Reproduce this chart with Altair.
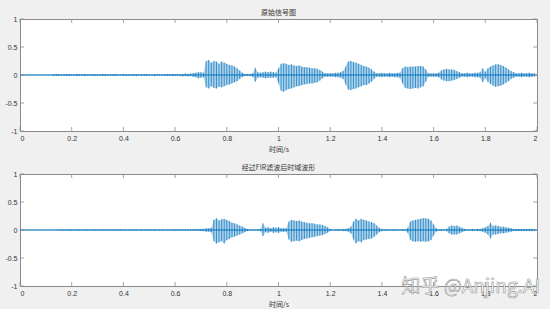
import altair as alt
import pandas as pd

STEP = 0.01
X_TICKS = [0, 0.2, 0.4, 0.6, 0.8, 1, 1.2, 1.4, 1.6, 1.8, 2]
Y_TICKS = [-1, -0.5, 0, 0.5, 1]
TITLES = ["原始信号图", "经过FIR滤波后时域波形"]
X_LABEL = "时间/s"
WATERMARK = "知乎 @Anjing.AI"

# envelope of the original signal, sampled every 0.01 s (upper / lower)
top_hi = [0.005] * 13 + [
    0.015, 0.02, 0.015, 0.01, 0.015, 0.02, 0.015,
    0.015, 0.01, 0.02, 0.015, 0.015, 0.02, 0.01, 0.015, 0.02, 0.015,
    0.01, 0.015, 0.02, 0.015, 0.01, 0.015, 0.015, 0.02, 0.01, 0.015,
    0.02, 0.015, 0.01, 0.015, 0.02, 0.015, 0.015, 0.01, 0.02, 0.015,
    0.015, 0.01, 0.015, 0.02, 0.015, 0.01, 0.015, 0.02, 0.015, 0.02,
    0.015, 0.02, 0.015, 0.02, 0.025, 0.02, 0.025, 0.03,
    0.04, 0.05, 0.05, 0.04,
    0.25, 0.27, 0.22, 0.25, 0.24, 0.20, 0.24, 0.22, 0.20, 0.18, 0.17, 0.15, 0.12, 0.08, 0.04,
    0.02, 0.02, 0.02, 0.03, 0.13, 0.05, 0.04, 0.05, 0.06, 0.05, 0.06, 0.05, 0.04,
    0.12, 0.20, 0.21, 0.20, 0.18, 0.19, 0.17, 0.16, 0.17, 0.15, 0.14, 0.14, 0.13, 0.12, 0.12, 0.11, 0.09, 0.06, 0.03,
    0.03, 0.03, 0.03, 0.04, 0.04, 0.05, 0.07,
    0.15, 0.24, 0.25, 0.23, 0.22, 0.20, 0.18, 0.16, 0.15, 0.13, 0.10, 0.06, 0.03,
    0.03, 0.04, 0.03, 0.03, 0.04, 0.03, 0.03, 0.04, 0.04,
    0.12, 0.15, 0.14, 0.15, 0.15, 0.15, 0.16, 0.16, 0.15, 0.10, 0.03,
    0.03, 0.03, 0.03, 0.04,
    0.08, 0.10, 0.11, 0.10, 0.10, 0.09, 0.07, 0.05,
    0.03, 0.03, 0.04, 0.03, 0.03, 0.04, 0.04, 0.05,
    0.12, 0.06,
    0.12, 0.15, 0.17, 0.19, 0.19, 0.18, 0.16, 0.13, 0.10, 0.07, 0.05,
    0.03, 0.03, 0.04, 0.03, 0.03, 0.04, 0.03, 0.03,
]
top_lo = [-0.005] * 13 + [
    -0.015, -0.015, -0.02, -0.01, -0.015, -0.015, -0.02,
    -0.01, -0.015, -0.02, -0.015, -0.01, -0.02, -0.015, -0.015, -0.01, -0.02,
    -0.015, -0.01, -0.015, -0.02, -0.015, -0.01, -0.02, -0.015, -0.015, -0.01,
    -0.015, -0.02, -0.015, -0.01, -0.015, -0.02, -0.01, -0.015, -0.015, -0.02,
    -0.01, -0.015, -0.02, -0.015, -0.01, -0.015, -0.02, -0.015, -0.015, -0.02,
    -0.02, -0.015, -0.02, -0.025, -0.02, -0.025, -0.02, -0.03,
    -0.04, -0.06, -0.05, -0.04,
    -0.22, -0.24, -0.20, -0.23, -0.24, -0.21, -0.22, -0.20, -0.18, -0.17, -0.15, -0.13, -0.11, -0.07, -0.04,
    -0.02, -0.02, -0.02, -0.03, -0.12, -0.05, -0.04, -0.05, -0.06, -0.05, -0.05, -0.05, -0.04,
    -0.15, -0.28, -0.30, -0.27, -0.25, -0.24, -0.22, -0.20, -0.20, -0.18, -0.17, -0.16, -0.15, -0.15, -0.14, -0.13, -0.10, -0.06, -0.03,
    -0.03, -0.03, -0.03, -0.04, -0.04, -0.05, -0.07,
    -0.17, -0.26, -0.27, -0.25, -0.24, -0.22, -0.20, -0.18, -0.18, -0.15, -0.12, -0.07, -0.03,
    -0.03, -0.04, -0.03, -0.03, -0.04, -0.03, -0.04, -0.04, -0.05,
    -0.15, -0.23, -0.24, -0.25, -0.24, -0.23, -0.24, -0.22, -0.20, -0.12, -0.03,
    -0.03, -0.03, -0.03, -0.04,
    -0.08, -0.10, -0.11, -0.11, -0.10, -0.09, -0.07, -0.05,
    -0.03, -0.03, -0.04, -0.03, -0.03, -0.04, -0.04, -0.05,
    -0.13, -0.06,
    -0.12, -0.16, -0.19, -0.21, -0.20, -0.19, -0.17, -0.14, -0.11, -0.07, -0.05,
    -0.03, -0.03, -0.04, -0.03, -0.03, -0.04, -0.03, -0.03,
]

# envelope of the FIR-filtered signal
bot_hi = [0.004] * 15 + [
    0.01, 0.012, 0.008, 0.01, 0.015, 0.01, 0.008, 0.012, 0.01, 0.01,
    0.015, 0.008, 0.01, 0.012, 0.01, 0.008, 0.01, 0.015, 0.01, 0.012,
    0.01, 0.008, 0.012, 0.01, 0.015, 0.01, 0.01, 0.008, 0.012, 0.01,
    0.015, 0.01, 0.008, 0.01, 0.012, 0.01, 0.015, 0.008, 0.01, 0.012,
    0.01, 0.008, 0.01, 0.012, 0.01, 0.01, 0.012, 0.01, 0.015, 0.012,
    0.01, 0.012, 0.015, 0.012, 0.015,
    0.02, 0.02, 0.03, 0.03, 0.04,
    0.18, 0.21, 0.17, 0.19, 0.20, 0.18, 0.16, 0.13, 0.12, 0.10, 0.08, 0.06, 0.04, 0.02,
    0.01, 0.01, 0.01, 0.015,
    0.02, 0.12, 0.04, 0.05, 0.03, 0.05, 0.04, 0.05, 0.03, 0.03, 0.03,
    0.15, 0.18, 0.17, 0.16, 0.17, 0.15, 0.14, 0.13, 0.12, 0.12, 0.11, 0.10, 0.10, 0.09, 0.07, 0.05, 0.02,
    0.01, 0.01, 0.02, 0.01, 0.02, 0.02, 0.03,
    0.06, 0.15, 0.20, 0.17, 0.20, 0.18, 0.17, 0.15, 0.14, 0.12, 0.08, 0.04, 0.02,
    0.01, 0.015, 0.01, 0.01, 0.015, 0.01, 0.01, 0.015, 0.01,
    0.04, 0.15, 0.17, 0.18, 0.19, 0.20, 0.21, 0.21, 0.20, 0.17, 0.10, 0.03,
    0.01, 0.015, 0.01, 0.02,
    0.06, 0.08, 0.07, 0.08, 0.06, 0.04, 0.02,
    0.01, 0.01, 0.02, 0.01, 0.02, 0.02, 0.03, 0.05,
    0.07, 0.13, 0.07, 0.08, 0.07, 0.06, 0.06, 0.05, 0.04, 0.03,
    0.02, 0.02, 0.02, 0.02, 0.02, 0.02, 0.02, 0.02, 0.02,
]
bot_lo = [-0.004] * 15 + [
    -0.01, -0.008, -0.012, -0.01, -0.01, -0.015, -0.01, -0.008, -0.012, -0.01,
    -0.01, -0.012, -0.008, -0.01, -0.015, -0.01, -0.012, -0.01, -0.008, -0.01,
    -0.012, -0.01, -0.01, -0.015, -0.008, -0.01, -0.012, -0.01, -0.01, -0.015,
    -0.01, -0.008, -0.012, -0.01, -0.01, -0.012, -0.008, -0.015, -0.01, -0.01,
    -0.012, -0.01, -0.008, -0.01, -0.012, -0.015, -0.01, -0.012, -0.01, -0.015,
    -0.012, -0.01, -0.015, -0.012, -0.015,
    -0.02, -0.02, -0.03, -0.03, -0.04,
    -0.20, -0.24, -0.22, -0.20, -0.24, -0.18, -0.16, -0.13, -0.12, -0.10, -0.08, -0.06, -0.04, -0.02,
    -0.01, -0.01, -0.01, -0.015,
    -0.02, -0.11, -0.04, -0.05, -0.03, -0.05, -0.04, -0.05, -0.03, -0.03, -0.03,
    -0.17, -0.21, -0.20, -0.19, -0.20, -0.18, -0.16, -0.15, -0.14, -0.13, -0.12, -0.11, -0.10, -0.09, -0.07, -0.05, -0.02,
    -0.01, -0.01, -0.02, -0.01, -0.02, -0.02, -0.03,
    -0.06, -0.17, -0.24, -0.20, -0.22, -0.18, -0.17, -0.16, -0.15, -0.12, -0.08, -0.04, -0.02,
    -0.01, -0.015, -0.01, -0.01, -0.015, -0.01, -0.01, -0.015, -0.01,
    -0.05, -0.18, -0.20, -0.21, -0.20, -0.21, -0.20, -0.21, -0.20, -0.18, -0.10, -0.03,
    -0.01, -0.015, -0.01, -0.02,
    -0.06, -0.08, -0.08, -0.08, -0.06, -0.04, -0.02,
    -0.01, -0.01, -0.02, -0.01, -0.02, -0.02, -0.03, -0.05,
    -0.08, -0.15, -0.08, -0.08, -0.07, -0.06, -0.06, -0.05, -0.04, -0.03,
    -0.02, -0.02, -0.02, -0.02, -0.02, -0.02, -0.02, -0.02, -0.02,
]

W, H = 517, 112
BLUE = "#0072BD"
AXC = "#8a8a8a"
TXT = "#333333"
LATIN = "Liberation Sans"
CJK = "Noto Sans CJK SC"
TICK = 4


def panel(hi, lo, title, watermark=False):
    n = min(len(hi), len(lo))
    df = pd.DataFrame({"t": [round(i * STEP, 2) for i in range(n)],
                       "hi": hi[:n], "lo": lo[:n]})
    xs = alt.Scale(domain=[0, 2], nice=False, zero=False)
    ys = alt.Scale(domain=[-1, 1], nice=False, zero=False)
    xax = alt.Axis(values=X_TICKS, labelExpr="'' + datum.value", title=X_LABEL,
                   ticks=False, domain=False, grid=False, labelPadding=3,
                   labelFont=LATIN, labelFontSize=7, labelColor=TXT,
                   titleFont=CJK, titleFontSize=7, titleFontWeight="normal",
                   titleColor=TXT, titlePadding=4)
    yax = alt.Axis(values=Y_TICKS, labelExpr="'' + datum.value", title="",
                   ticks=False, domain=False, grid=False, labelPadding=3,
                   labelFont=LATIN, labelFontSize=7, labelColor=TXT)
    X = lambda f: alt.X(f, scale=xs, axis=xax)
    Y = lambda f: alt.Y(f, scale=ys, axis=yax)

    base = alt.Chart(df)
    area = base.mark_area(color=BLUE, opacity=0.3).encode(
        x=X("t:Q"), y=Y("hi:Q"), y2="lo:Q")
    rules = base.mark_rule(color=BLUE, strokeWidth=0.9, opacity=0.8).encode(
        x=X("t:Q"), y=Y("hi:Q"), y2="lo:Q")
    zero = alt.Chart(pd.DataFrame({"v": [0]})).mark_rule(
        color=BLUE, strokeWidth=1.2).encode(y=Y("v:Q"))

    xt = alt.Chart(pd.DataFrame({"t": X_TICKS}))
    yt = alt.Chart(pd.DataFrame({"v": Y_TICKS}))
    xt_b = xt.mark_rule(color=AXC, strokeWidth=0.8).encode(
        x=X("t:Q"), y=alt.value(H), y2=alt.value(H - TICK))
    xt_t = xt.mark_rule(color=AXC, strokeWidth=0.8).encode(
        x=X("t:Q"), y=alt.value(0), y2=alt.value(TICK))
    yt_l = yt.mark_rule(color=AXC, strokeWidth=0.8).encode(
        y=Y("v:Q"), x=alt.value(0), x2=alt.value(TICK))
    yt_r = yt.mark_rule(color=AXC, strokeWidth=0.8).encode(
        y=Y("v:Q"), x=alt.value(W), x2=alt.value(W - TICK))

    layers = [area, rules, zero, xt_b, xt_t, yt_l, yt_r]
    if watermark:
        wm = alt.Chart(pd.DataFrame({"s": [WATERMARK]})).mark_text(
            font=CJK, fontSize=19, align="right", baseline="middle",
            fill="white", stroke="#8c8c8c", strokeWidth=0.6, opacity=0.9
        ).encode(text="s:N", x=alt.value(W + 3), y=alt.value(H + 1))
        layers.append(wm)

    return alt.layer(*layers).properties(
        width=W, height=H,
        title=alt.TitleParams(text=title, font=CJK, fontSize=7,
                              fontWeight="normal", color=TXT, offset=-1,
                              anchor="middle"))


chart = alt.vconcat(
    panel(top_hi, top_lo, TITLES[0]),
    panel(bot_hi, bot_lo, TITLES[1], watermark=True),
    spacing=43, bounds="flush",
).properties(
    background="#f0f0f0",
    padding={"left": 4, "top": 8, "right": 9, "bottom": 1},
).configure_view(fill="white", stroke=AXC, strokeWidth=1)

chart.save("out.html", embed_options={"renderer": "svg", "actions": False})
